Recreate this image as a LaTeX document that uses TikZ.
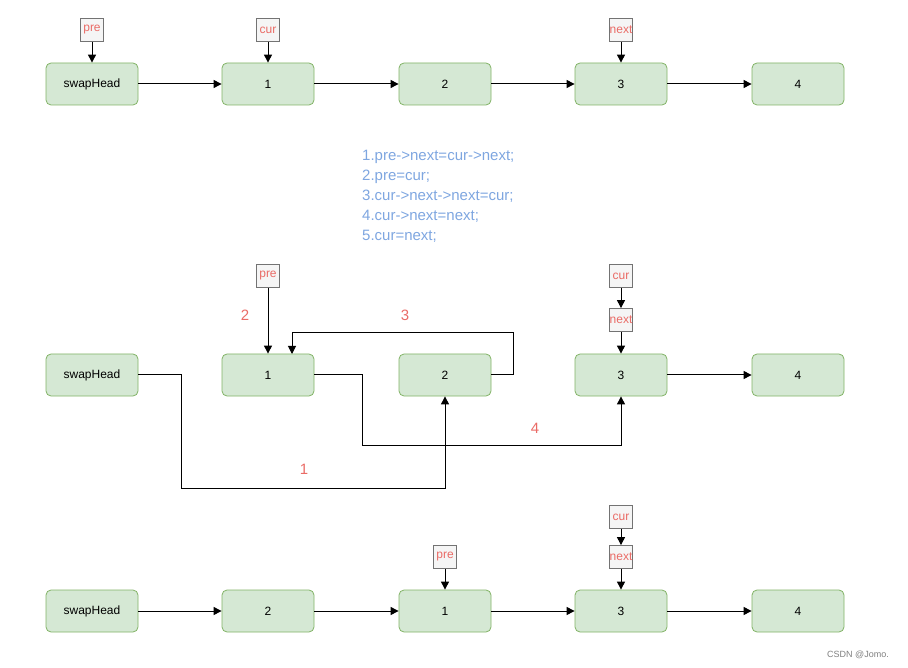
\documentclass[tikz,border=0pt]{standalone}
\usepackage{fontspec}
\setmainfont{Liberation Sans}
\usetikzlibrary{arrows.meta}
\definecolor{boxfill}{HTML}{D5E8D4}
\definecolor{boxline}{HTML}{82B366}
\definecolor{tagred}{HTML}{EA6B66}
\definecolor{codeblue}{HTML}{7EA6E0}
\begin{document}
\begin{tikzpicture}[x=1pt,y=-1pt,
  box/.style={draw=boxline,fill=boxfill,rounded corners=5pt,minimum width=92pt,minimum height=42pt,font=\fontsize{12}{13}\selectfont,line width=0.8pt},
  tag/.style={draw=black!55,fill=black!4,minimum width=23pt,minimum height=23pt,inner sep=0pt,text=tagred,font=\fontsize{12}{13}\selectfont,line width=0.8pt},
  arr/.style={-{Triangle[length=8pt,width=8pt]},line width=1pt},
  num/.style={text=tagred,font=\fontsize{15}{16}\selectfont}]
\useasboundingbox (0,0) rectangle (908,668);
% row 1
\node[box] (a0) at (92,84) {swapHead};
\node[box] (a1) at (268,84) {1};
\node[box] (a2) at (445,84) {2};
\node[box] (a3) at (621,84) {3};
\node[box] (a4) at (798,84) {4};
\node[tag] (apre) at (92,30) {pre};
\node[tag] (acur) at (268,30) {cur};
\node[tag] (anext) at (621,30) {next};
\draw[arr] (a0) -- (a1);
\draw[arr] (a1) -- (a2);
\draw[arr] (a2) -- (a3);
\draw[arr] (a3) -- (a4);
\draw[arr] (apre) -- (a0);
\draw[arr] (acur) -- (a1);
\draw[arr] (anext) -- (a3);
% steps
\node[text=codeblue,align=left,anchor=north west,font=\fontsize{15}{20}\selectfont,inner sep=0pt] (code) at (362,150)
  {1.pre->next=cur->next;\\2.pre=cur;\\3.cur->next->next=cur;\\4.cur->next=next;\\5.cur=next;};
% row 2
\node[box] (b0) at (92,375) {swapHead};
\node[box] (b1) at (268,375) {1};
\node[box] (b2) at (445,375) {2};
\node[box] (b3) at (621,375) {3};
\node[box] (b4) at (798,375) {4};
\node[tag] (bpre) at (268,276) {pre};
\node[tag] (bcur) at (621,276) {cur};
\node[tag] (bnext) at (621,320) {next};
\coordinate (b1top) at (292,354);
\draw[arr] (bpre) -- (b1);
\draw[arr] (bcur) -- (bnext);
\draw[arr] (bnext) -- (b3);
\draw[arr] (b3) -- (b4);
\draw[arr] (b0.east) -- (181,375) -- (181,488) -- (445,488) -- (b2.south);
\draw[arr] (b1.east) -- (362,375) -- (362,445) -- (621,445) -- (b3.south);
\draw[arr] (b2.east) -- (513,375) -- (513,333) -- (292,333) -- (b1top);
\node[num] (n2) at (245,315) {2};
\node[num] (n3) at (405,315) {3};
\node[num] (n4) at (535,428) {4};
\node[num] (n1) at (304,469) {1};
% row 3
\node[box] (c0) at (92,611) {swapHead};
\node[box] (c1) at (268,611) {2};
\node[box] (c2) at (445,611) {1};
\node[box] (c3) at (621,611) {3};
\node[box] (c4) at (798,611) {4};
\node[tag] (cpre) at (445,557) {pre};
\node[tag] (ccur) at (621,517) {cur};
\node[tag] (cnext) at (621,557) {next};
\draw[arr] (c0) -- (c1);
\draw[arr] (c1) -- (c2);
\draw[arr] (c2) -- (c3);
\draw[arr] (c3) -- (c4);
\draw[arr] (cpre) -- (c2);
\draw[arr] (ccur) -- (cnext);
\draw[arr] (cnext) -- (c3);
\node[text=black!50,font=\fontsize{9}{10}\selectfont] (wm) at (858,655) {CSDN @Jomo.};
\end{tikzpicture}
\end{document}
